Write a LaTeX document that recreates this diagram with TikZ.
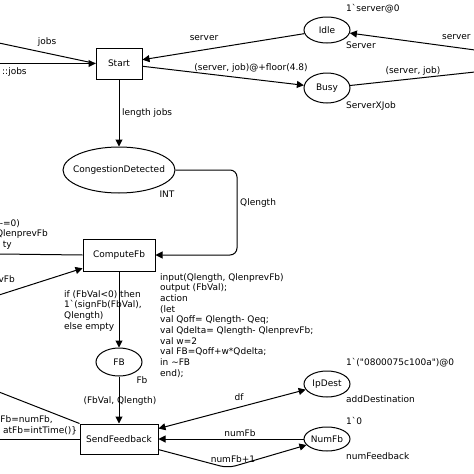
\documentclass[tikz,border=0pt]{standalone}
\usepackage{fontspec}
\newfontfamily\dv{DejaVu Sans}
\usetikzlibrary{arrows.meta,shapes.geometric}
\begin{document}
\begin{tikzpicture}[x=1pt,y=-1pt,
  every node/.style={font=\dv\fontsize{9}{10.7}\selectfont},
  >={Triangle[length=7pt,width=7pt]},
  trans/.style={draw, line width=1pt, rectangle, inner sep=0pt},
  place/.style={draw, line width=1pt, ellipse, inner sep=0pt},
  lbl/.style={inner sep=0pt},
  arc/.style={line width=1pt},
  arr/.style={arc, ->},
  arrb/.style={arc, <->}]
\useasboundingbox (0,0) rectangle (474,474);
\clip (0,0) rectangle (474,474);
% places and transitions
\node[trans, minimum width=46pt, minimum height=31pt] (Start) at (119,63.5) {Start};
\node[place, minimum width=46pt, minimum height=26pt] (Idle) at (327,30) {Idle};
\node[place, minimum width=46pt, minimum height=30pt] (Busy) at (327,88) {Busy};
\node[place, inner xsep=-8pt, minimum width=112pt, minimum height=46pt] (CD) at (119,170) {CongestionDetected};
\node[trans, minimum width=72pt, minimum height=32pt] (CF) at (119,255) {ComputeFb};
\node[place, minimum width=46pt, minimum height=28pt] (FB) at (119,362) {FB};
\node[trans, minimum width=78pt, minimum height=30pt] (SF) at (119,439) {SendFeedback};
\node[place, minimum width=46pt, minimum height=26pt] (IpDest) at (327,384) {IpDest};
\node[place, minimum width=46pt, minimum height=24pt] (NumFb) at (327,439) {NumFb};
% free ends
\coordinate (jobsL) at (-1,43);
\coordinate (jobs2L) at (-1,63.5);
\coordinate (srvR) at (475,50);
\coordinate (busyR) at (475,72);
\coordinate (qc) at (237,210);
\coordinate (cfL) at (-1,254);
\coordinate (cfL2) at (-1,295);
\coordinate (sfL) at (-1,392);
\coordinate (sfL2) at (-1,439);
\coordinate (nb) at (228,468);
% arcs
\draw[arc] (jobsL) -- (Start.west);
\draw[arr] (jobs2L) -- (Start.west);
\draw[arr] (srvR) -- (Idle);
\draw[arr] (Idle) -- (Start);
\draw[arr] (Start) -- (Busy);
\draw[arc] (Busy) -- (busyR);
\draw[arr] (Start) -- (CD);
\draw[arr, rounded corners=7pt] (CD.east) -| (qc) |- (CF.east);
\draw[arc] (cfL) -- (CF.west);
\draw[arr] (cfL2) -- (CF.200);
\draw[arr] (CF) -- (FB);
\draw[arr] (FB) -- (SF);
\draw[arc] (sfL) -- (SF.north west);
\draw[arc] (sfL2) -- (SF.west);
\draw[arrb] (SF) -- (IpDest);
\draw[arr] (NumFb) -- (SF);
\draw[arr, rounded corners=8pt] (SF.-15) -- (nb) -- (NumFb);
% labels
\node[lbl] (lJobs) at (47,42) {jobs};
\node[lbl, anchor=west] (lJobs2) at (2,72) {::jobs};
\node[lbl] (lSrv) at (204,38) {server};
\node[lbl] (lSJ) at (251,68) {(server, job)@+floor(4.8)};
\node[lbl, anchor=west] (iIdle) at (346,9) {1`server@0};
\node[lbl, anchor=west] (tIdle) at (346,45) {Server};
\node[lbl, anchor=west] (tBusy) at (346,106) {ServerXJob};
\node[lbl, anchor=west] (lSrv2) at (442,37) {server};
\node[lbl] (lSJ2) at (413,71) {(server, job)};
\node[lbl, anchor=west] (lLen) at (122,113) {length jobs};
\node[lbl] (tCD) at (167,194) {INT};
\node[lbl, anchor=west] (lQ) at (240,203) {Qlength};
\node[lbl, anchor=east] (lA) at (20,224) {-=0)};
\node[lbl, anchor=east] (lB) at (48,234) {QlenprevFb};
\node[lbl, anchor=east] (lC) at (12,245) {ty};
\node[lbl, anchor=east] (lD) at (15,279) {vFb};
\node[lbl, anchor=north west, align=left] (lIf) at (64,290) {if (FbVal<0) then\\1`(signFb(FbVal),\\Qlength)\\else empty};
\node[lbl, anchor=north west, align=left] (lCode) at (160,273) {input(Qlength, QlenprevFb)\\output (FbVal);\\action\\(let\\val Qoff= Qlength- Qeq;\\val Qdelta= Qlength- QlenprevFb;\\val w=2\\val FB=Qoff+w*Qdelta;\\in \textasciitilde FB\\end);};
\node[lbl] (tFB) at (142,380) {Fb};
\node[lbl] (lFbQ) at (120,401) {(FbVal, Qlength)};
\node[lbl, anchor=east] (lE) at (53,420) {Fb=numFb,};
\node[lbl, anchor=west] (lF) at (3,431) {atFb=intTime()\}};
\node[lbl] (ldf) at (239,397) {df};
\node[lbl] (lnum) at (240,433) {numFb};
\node[lbl] (lnum1) at (233,459) {numFb+1};
\node[lbl, anchor=west] (iIp) at (346,363) {1`("0800075c100a")@0};
\node[lbl, anchor=west] (tIp) at (346,399) {addDestination};
\node[lbl, anchor=west] (iNum) at (346,421) {1`0};
\node[lbl, anchor=west] (tNum) at (346,456) {numFeedback};
\end{tikzpicture}
\end{document}
